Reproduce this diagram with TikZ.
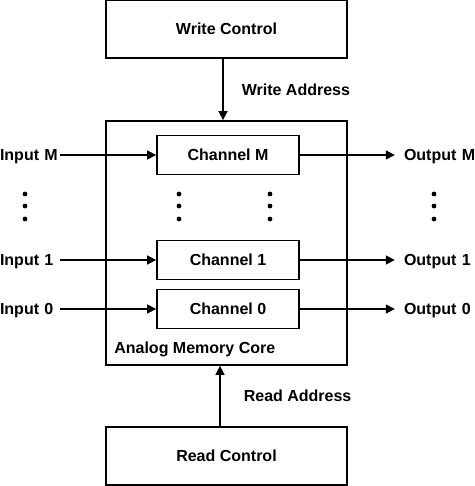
\documentclass[tikz,border=0pt]{standalone}
\usepackage{fontspec}
\setmainfont{Liberation Sans}
\usepackage{tikz}
\usetikzlibrary{positioning}
\usetikzlibrary{arrows.meta}

\begin{document}
\begin{tikzpicture}[x=1pt,y=1pt,node distance=49pt,on grid,
  font=\fontsize{16}{19}\selectfont\bfseries,
  blk/.style={draw,line width=1.8pt,minimum width=241pt,minimum height=58pt,inner sep=0pt},
  chan/.style={draw,line width=1.8pt,minimum width=142pt,minimum height=39pt,inner sep=0pt},
  inlbl/.style={inner sep=0pt,text width=58pt,align=left,text height=11.5pt,text depth=0pt},
  outlbl/.style={inner sep=0pt,text width=72pt,align=left,text height=11.5pt,text depth=0pt},
  conn/.style={line width=1.6pt,-{Triangle[length=9pt,width=9pt]}}]
  \useasboundingbox (0,0) rectangle (474,-486);
  \node[blk,minimum height=244pt] (core) at (226.5,-243) {};
  \node[blk] (wc) [above=214pt of core] {Write Control};
  \node[blk] (rc) [below=213pt of core] {Read Control};
  \node[chan] (chM) at (228,-155) {Channel M};
  \node[chan] (ch1) [below=105pt of chM] {Channel 1};
  \node[chan] (ch0) [below=of ch1] {Channel 0};
  \node[inlbl] (inM) [left=199pt of chM] {Input M};
  \node[inlbl] (in1) [left=199pt of ch1] {Input 1};
  \node[inlbl] (in0) [left=199pt of ch0] {Input 0};
  \node[outlbl] (outM) [right=212pt of chM] {Output M};
  \node[outlbl] (out1) [right=212pt of ch1] {Output 1};
  \node[outlbl] (out0) [right=212pt of ch0] {Output 0};
  \node[inner sep=0pt,anchor=west] (corelbl) at ([xshift=9pt,yshift=17pt]core.south west) {Analog Memory Core};
  \coordinate (wa) at ([xshift=-3.5pt]wc.south);
  \coordinate (ra) at ([xshift=-6.5pt]rc.north);
  \draw[conn] (wa) -- node[right=18pt,inner sep=0pt] {Write Address} (wa |- core.north);
  \draw[conn] (ra) -- node[right=23pt,inner sep=0pt] {Read Address} (ra |- core.south);
  \draw[conn,shorten <=2pt] (inM) -- (chM);
  \draw[conn,shorten <=2pt] (in1) -- (ch1);
  \draw[conn,shorten <=2pt] (in0) -- (ch0);
  \draw[conn,shorten >=9pt] (chM) -- (outM);
  \draw[conn,shorten >=9pt] (ch1) -- (out1);
  \draw[conn,shorten >=9pt] (ch0) -- (out0);
  % the dots between the rows
  \foreach \x in {25,179,270,434}
    \foreach \y in {194,206,219}
      \fill (\x,-\y) circle (2.4pt);
\end{tikzpicture}
\end{document}
